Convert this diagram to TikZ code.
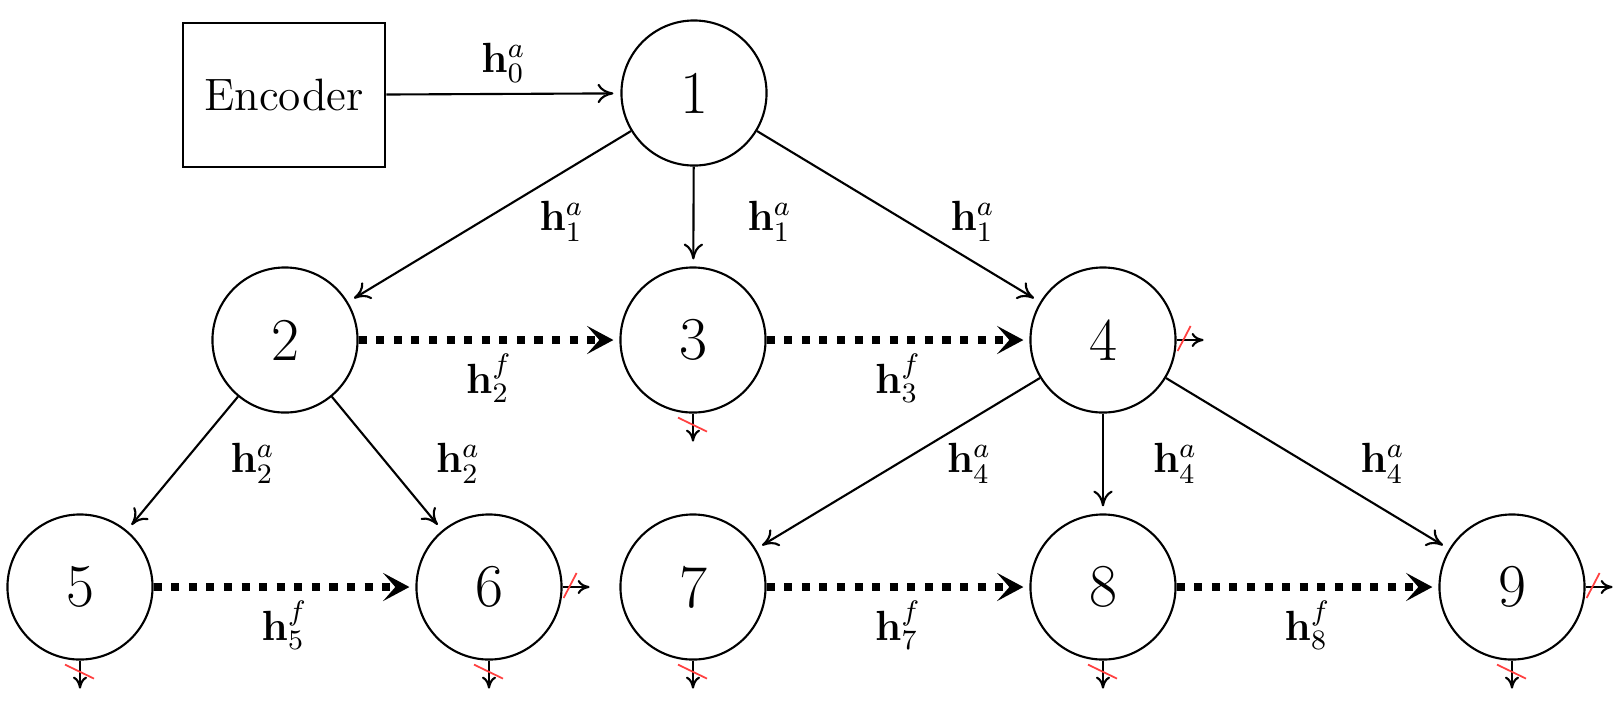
\documentclass[tikz,border=0pt]{standalone}
\usetikzlibrary{arrows.meta,calc}
\begin{document}
\begin{tikzpicture}[x=0.01cm,y=-0.01cm,line width=0.6pt,
  state/.style={circle,draw,minimum size=1.45cm,inner sep=0pt,font=\fontsize{17.3}{20}\selectfont},
  encbox/.style={rectangle,draw,line width=0.75pt,minimum width=2.02cm,minimum height=1.44cm,inner sep=0pt,font=\fontsize{12.9}{15}\selectfont},
  edge/.style={-{To[length=4.5pt,width=5.5pt]},shorten >=2pt},
  fedge/.style={-{Stealth[length=7.5pt,width=8pt,inset=3.5pt]},line width=2.3pt,dash pattern=on 2.3pt off 2.7pt,shorten >=1.7pt},
  stub/.style={-{To[length=3.4pt,width=4pt]}},
  slash/.style={draw=red!75,line width=0.5pt},
  lbl/.style={font=\fontsize{12}{14}\selectfont,inner sep=0pt}
]
\useasboundingbox (0,0) rectangle (1614,708);

\node[encbox] (enc) at (284,95) {Encoder};
\node[state] (n1) at (694,93) {1};
\node[state] (n2) at (285,340) {2};
\node[state] (n3) at (693,340) {3};
\node[state] (n4) at (1103,340) {4};
\node[state] (n5) at (80,587) {5};
\node[state] (n6) at (489,587) {6};
\node[state] (n7) at (693,587) {7};
\node[state] (n8) at (1103,587) {8};
\node[state] (n9) at (1512,587) {9};

\draw[edge] (enc) -- (n1) node[lbl,midway,yshift=0.31cm] {$\mathbf{h}^{a}_{0}$};

\draw[edge] (n1) -- (n2) node[lbl,midway,xshift=0.72cm,yshift=-0.05cm] {$\mathbf{h}^{a}_{1}$};
\draw[edge] (n1) -- (n3) node[lbl,midway,xshift=0.76cm,yshift=-0.05cm] {$\mathbf{h}^{a}_{1}$};
\draw[edge] (n1) -- (n4) node[lbl,midway,xshift=0.74cm,yshift=-0.05cm] {$\mathbf{h}^{a}_{1}$};

\draw[edge] (n2) -- (n5) node[lbl,midway,xshift=0.70cm] {$\mathbf{h}^{a}_{2}$};
\draw[edge] (n2) -- (n6) node[lbl,midway,xshift=0.71cm] {$\mathbf{h}^{a}_{2}$};

\draw[edge] (n4) -- (n7) node[lbl,midway,xshift=0.71cm] {$\mathbf{h}^{a}_{4}$};
\draw[edge] (n4) -- (n8) node[lbl,midway,xshift=0.72cm] {$\mathbf{h}^{a}_{4}$};
\draw[edge] (n4) -- (n9) node[lbl,midway,xshift=0.75cm] {$\mathbf{h}^{a}_{4}$};

\draw[fedge] (n2) -- (n3) node[lbl,midway,yshift=-0.38cm] {$\mathbf{h}^{f}_{2}$};
\draw[fedge] (n3) -- (n4) node[lbl,midway,yshift=-0.38cm] {$\mathbf{h}^{f}_{3}$};
\draw[fedge] (n5) -- (n6) node[lbl,midway,yshift=-0.38cm] {$\mathbf{h}^{f}_{5}$};
\draw[fedge] (n7) -- (n8) node[lbl,midway,yshift=-0.38cm] {$\mathbf{h}^{f}_{7}$};
\draw[fedge] (n8) -- (n9) node[lbl,midway,yshift=-0.38cm] {$\mathbf{h}^{f}_{8}$};

\foreach \n in {3,5,6,7,8,9} {
  \coordinate (d\n) at ($(n\n.south)+(0,28)$);
  \draw[stub] (n\n.south) -- (d\n);
  \draw[slash] ($(n\n.south)+(-15,4)$) -- ($(n\n.south)+(14,18)$);
}
\foreach \n in {4,6,9} {
  \coordinate (r\n) at ($(n\n.east)+(27,0)$);
  \draw[stub] (n\n.east) -- (r\n);
  \draw[slash] ($(n\n.east)+(1,11)$) -- ($(n\n.east)+(14,-14)$);
}
\end{tikzpicture}
\end{document}
